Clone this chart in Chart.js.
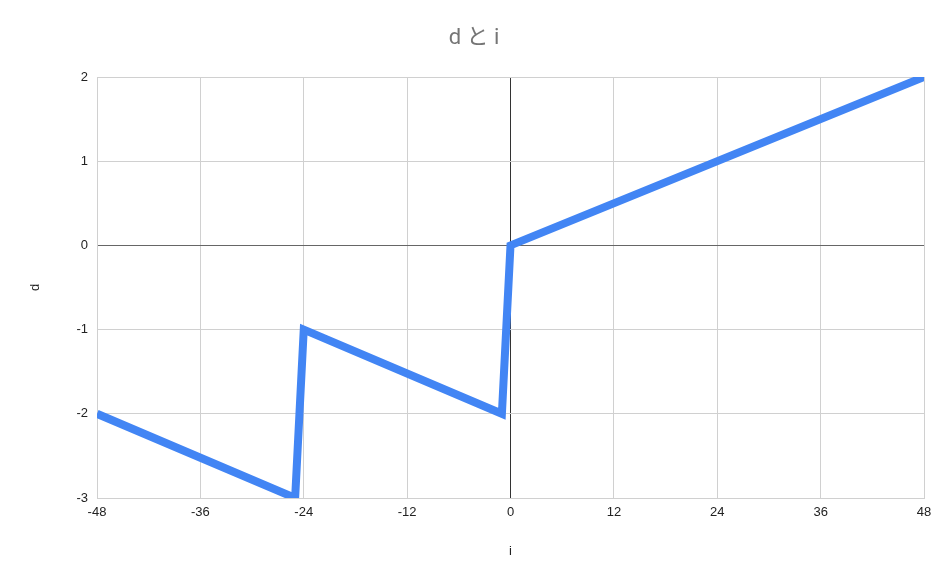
<!DOCTYPE html>
<html>
<head>
<meta charset="utf-8">
<script src="https://cdn.jsdelivr.net/npm/chart.js@4/dist/chart.umd.min.js"></script>
<style>
  html, body { margin: 0; padding: 0; background: #fff; }
  #wrap { width: 946px; height: 575px; position: relative; }
</style>
</head>
<body>
<div id="wrap"><canvas id="c"></canvas></div>
<script>
/* data */
const iVals = [-48, -25, -24, -1, 0, 48];
const dVals = [-2, -3, -1, -2, 0, 2];
const xTicks = [-48, -36, -24, -12, 0, 12, 24, 36, 48];
const yTicks = [-3, -2, -1, 0, 1, 2];

const points = iVals.map((x, k) => ({ x: x, y: dVals[k] }));
const FONT = "'Liberation Sans', Arial, sans-serif";

new Chart(document.getElementById('c'), {
  type: 'line',
  data: {
    datasets: [{
      data: points,
      borderColor: '#4285F4',
      borderWidth: 8,
      pointRadius: 0,
      tension: 0,
      clip: 0
    }]
  },
  options: {
    responsive: true, maintainAspectRatio: false, animation: false,
    layout: { padding: { left: 24, right: 22, top: 0, bottom: 12 } },
    plugins: {
      legend: { display: false },
      tooltip: { enabled: false },
      title: {
        display: true, text: 'd と i', color: '#757575',
        font: { size: 22, family: "Roboto, 'Noto Sans CJK JP', sans-serif", weight: 'normal' },
        padding: { top: 25, bottom: 25.6 }
      }
    },
    scales: {
      x: {
        type: 'linear', min: xTicks[0], max: xTicks[xTicks.length - 1],
        afterFit: s => { s.height = 65; },
        afterBuildTicks: s => { s.ticks = xTicks.map(v => ({ value: v })); },
        ticks: { color: '#222', padding: 7, font: { size: 13, family: FONT } },
        grid: {
          drawTicks: false,
          color: c => c.tick && c.tick.value === 0 ? '#333' : '#d0d0d0'
        },
        border: { color: '#d0d0d0' },
        title: { display: true, text: 'i', color: '#222', font: { size: 13, family: FONT } }
      },
      y: {
        min: yTicks[0], max: yTicks[yTicks.length - 1],
        afterFit: s => { s.width = 73; },
        afterBuildTicks: s => { s.ticks = yTicks.map(v => ({ value: v })); },
        ticks: { color: '#222', padding: 9, font: { size: 13, family: FONT } },
        grid: {
          drawTicks: false,
          color: c => c.tick && c.tick.value === 0 ? '#666' : '#d0d0d0'
        },
        border: { color: '#d0d0d0' },
        title: { display: true, text: 'd', color: '#222', font: { size: 13, family: FONT } }
      }
    }
  }
});
</script>
</body>
</html>
